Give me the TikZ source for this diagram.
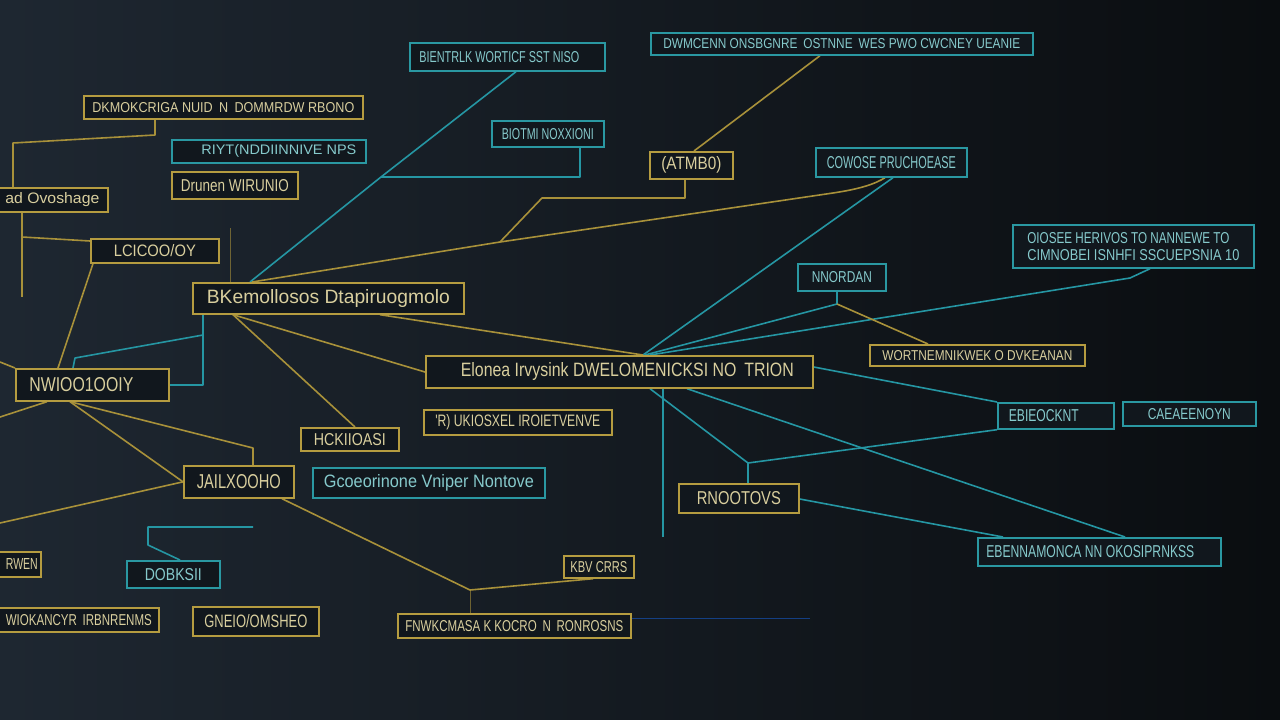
\documentclass[tikz,border=0pt]{standalone}
\usepackage{fontspec}
\usepackage{graphicx}
\newfontfamily\cond{Liberation Sans}
\usetikzlibrary{calc}
\definecolor{bgL}{HTML}{1E2731}
\definecolor{bgM}{HTML}{151C24}
\definecolor{bgR}{HTML}{0A0D10}
\definecolor{gline}{HTML}{A8913A}
\definecolor{gbord}{HTML}{B59C40}
\definecolor{gtext}{HTML}{D9CF9E}
\definecolor{tline}{HTML}{2596A3}
\definecolor{tbord}{HTML}{2A98A2}
\definecolor{ttext}{HTML}{86CACC}
\definecolor{boxfill}{HTML}{11171D}
\newcommand\lbl[3]{\resizebox{#1pt}{#2pt}{\cond #3}}
\pgfdeclarelayer{bg}\pgfdeclarelayer{wires}\pgfsetlayers{bg,wires,main}
\tikzset{
  box/.style={rectangle, anchor=north west, inner sep=0pt, line width=1.7pt, fill=boxfill},
  gbox/.style={box, draw=gbord, text=gtext},
  tbox/.style={box, draw=tbord, text=ttext},
  gw/.style={draw=gline, line width=1.6pt, line join=round},
  tw/.style={draw=tline, line width=1.6pt, line join=round},
  faint/.style={line width=0.9pt, opacity=0.6}
}
\begin{document}
\begin{tikzpicture}[x=1pt,y=-1pt]
\useasboundingbox (0,0) rectangle (1280,720);
\begin{pgfonlayer}{bg}
\shade[left color=bgL, middle color=bgM, right color=bgR] (0,0) rectangle (1280,720);
\end{pgfonlayer}
\clip (0,0) rectangle (1280,720);

% ---------- nodes ----------
\node[gbox, minimum width=279pt, minimum height=23pt] (g2) at (83,95) {\lbl{262}{10}{DKMOKCRIGA NUID\enspace N\enspace DOMMRDW RBONO}};
\node[tbox, minimum width=194pt, minimum height=23pt] (t5) at (171,139) {\hspace*{20pt}\lbl{155}{10}{RIYT(NDDIINNIVE NPS}};
\node[gbox, minimum width=126pt, minimum height=27pt] (g3) at (171,171) {\lbl{108}{12}{Drunen WIRUNIO}};
\node[gbox, minimum width=117pt, minimum height=24pt] (g4) at (-10,187) {\hspace*{6pt}\lbl{94}{11}{ad Ovoshage}};
\node[gbox, minimum width=128pt, minimum height=24pt] (g5) at (90,238) {\lbl{82}{12}{LCICOO/OY}};
\node[gbox, minimum width=271pt, minimum height=31pt] (g6) at (192,282) {\lbl{243}{14}{BKemollosos Dtapiruogmolo}};
\node[tbox, minimum width=195pt, minimum height=28pt] (t1) at (409,42) {\lbl{160}{11}{BIENTRLK WORTICF SST NISO}\hspace*{16pt}};
\node[tbox, minimum width=382pt, minimum height=22pt] (t2) at (650,32) {\lbl{357}{10}{DWMCENN ONSBGNRE\enspace OSTNNE\enspace WES PWO CWCNEY UEANIE}};
\node[tbox, minimum width=112pt, minimum height=26pt] (t3) at (491,120) {\lbl{92}{11}{BIOTMI NOXXIONI}};
\node[gbox, minimum width=83pt, minimum height=27pt] (g1) at (649,151) {\lbl{60}{13}{(ATMB0)}};
\node[tbox, minimum width=151pt, minimum height=29pt] (t4) at (815,147) {\lbl{129}{12}{COWOSE PRUCHOEASE}};
\node[tbox, minimum width=241pt, minimum height=43pt, align=left, font=\fontsize{12}{17}\selectfont] (t6) at (1012,224)
  {\lbl{202}{11}{OIOSEE HERIVOS TO NANNEWE TO}\\\lbl{212}{11}{CIMNOBEI ISNHFI SSCUEPSNIA 10}};
\node[tbox, minimum width=88pt, minimum height=27pt] (t7) at (797,263) {\lbl{60}{11}{NNORDAN}};
\node[gbox, minimum width=215pt, minimum height=21pt] (g7) at (869,344) {\lbl{190}{10}{WORTNEMNIKWEK O DVKEANAN}};
\node[gbox, minimum width=387pt, minimum height=32pt] (g8) at (425,355) {\hspace*{16pt}\lbl{333}{14}{Elonea Irvysink DWELOMENICKSI NO\enspace TRION}};
\node[gbox, minimum width=153pt, minimum height=32pt] (g9) at (15,368) {\lbl{104}{14}{NWIOO1OOIY}\hspace*{22pt}};
\node[tbox, minimum width=116pt, minimum height=26pt] (t8) at (997,402) {\lbl{70}{12}{EBIEOCKNT}\hspace*{24pt}};
\node[tbox, minimum width=133pt, minimum height=24pt] (t9) at (1122,401) {\lbl{83}{11}{CAEAEENOYN}};
\node[gbox, minimum width=98pt, minimum height=23pt] (g10) at (300,427) {\lbl{72}{12}{HCKIIOASI}};
\node[gbox, minimum width=188pt, minimum height=25pt] (g11) at (423,409) {\lbl{165}{12}{'R) UKIOSXEL IROIETVENVE}};
\node[gbox, minimum width=110pt, minimum height=32pt] (g12) at (183,465) {\lbl{84}{14}{JAILXOOHO}};
\node[tbox, minimum width=232pt, minimum height=30pt] (t10) at (312,467) {\lbl{210}{13}{Gcoeorinone Vniper Nontove}};
\node[gbox, minimum width=120pt, minimum height=29pt] (g13) at (678,483) {\lbl{84}{13}{RNOOTOVS}};
\node[tbox, minimum width=243pt, minimum height=28pt] (t11) at (977,537) {\lbl{208}{12}{EBENNAMONCA NN OKOSIPRNKSS}\hspace*{18pt}};
\node[gbox, minimum width=52pt, minimum height=25pt] (g14) at (-12,551) {\hspace*{14pt}\lbl{32}{11}{RWEN}};
\node[tbox, minimum width=93pt, minimum height=27pt] (t12) at (126,560) {\lbl{57}{12}{DOBKSII}};
\node[gbox, minimum width=70pt, minimum height=22pt] (g15) at (563,555) {\lbl{57}{11}{KBV CRRS}};
\node[gbox, minimum width=170pt, minimum height=24pt] (g16) at (-12,607) {\hspace*{10pt}\lbl{146}{11}{WIOKANCYR\enspace IRBNRENMS}};
\node[gbox, minimum width=126pt, minimum height=29pt] (g17) at (192,606) {\lbl{103}{13}{GNEIO/OMSHEO}};
\node[gbox, minimum width=233pt, minimum height=24pt] (g18) at (397,613) {\lbl{218}{11}{FNWKCMASA K KOCRO\enspace N\enspace RONROSNS}};

% ---------- connectors ----------
\begin{pgfonlayer}{wires}
\coordinate (j1) at (381,177);
\coordinate (j2) at (837,304);
\coordinate (j3) at (748,463);
\coordinate (j4) at (500,242);
\coordinate (j5) at (470,590);
\coordinate (j6) at (203,335);
\coordinate (j7) at (22,237);
\coordinate (e1) at (663,537);
\coordinate (e2) at (253,527);
\coordinate (e3) at (810,618);
\coordinate (e4) at (230,228);
\coordinate (e5) at (22,297);
\coordinate (e6) at (0,362);
\coordinate (e7) at (0,417);
\coordinate (e8) at (0,523);
% teal
\draw[tw] (t1.south -| 516,0) -- (j1) -- (g6.north -| 250,0);
\draw[tw] (t3.south -| 580,0) |- (j1);
\draw[tw] (t4.south -| 893,0) -- (g8.north -| 643,0);
\draw[tw] (t7.south -| 837,0) -- (j2) -- (g8.north -| 645,0);
\draw[tw] (t6.south -| 1150,0) -- (1130,278) -- (g8.north -| 650,0);
\draw[tw] (g6.south -| 203,0) |- (g9.east |- 0,385);
\draw[tw] (j6) -- (75,358) -- (g9.north -| 73,0);
\draw[tw] (g8.east |- 0,367) -- (t8.north west);
\draw[tw] (g8.south -| 650,0) -- (j3) -- (g13.north -| 748,0);
\draw[tw] (j3) -- (t8.south west);
\draw[tw] (g8.south -| 687,0) -- (t11.north -| 1125,0);
\draw[tw] (g13.east |- 0,499) -- (t11.north -| 1003,0);
\draw[tw, line width=1.2pt] (g8.south -| 663,0) -- (e1);
\draw[tw] (t12.north -| 180,0) -- (148,545) -- (148,527) -- (e2);
\draw[draw=tline!60!blue, faint] (g18.east |- 0,618) -- (e3);
% gold
\draw[gw] (t2.south -| 820,0) -- (g1.north -| 694,0);
\draw[gw] (g1.south -| 685,0) -- (685,198) -- (542,198) -- (j4);
\draw[gw] (g6.north -| 252,0) -- (j4) -- (833,193) .. controls (860,189) and (875,184) .. (t4.south -| 885,0);
\draw[gw, faint] (g6.north -| 230,0) -- (e4);
\draw[gw] (g2.south -| 155,0) -- (155,135) -- (13,143) -- (g4.north -| 13,0);
\draw[gw] (g4.south -| 22,0) -- (e5);
\draw[gw] (j7) -- (g5.west |- 0,241);
\draw[gw] (g5.south -| 93,0) -- (g9.north -| 58,0);
\draw[gw] (e6) -- (g9.north west);
\draw[gw] (g9.south -| 47,0) -- (e7);
\draw[gw] (g9.south -| 70,0) -- (253,448) -- (g12.north -| 253,0);
\draw[gw] (g9.south -| 70,0) -- (g12.west);
\draw[gw] (g12.west) -- (e8);
\draw[gw] (g6.south -| 233,0) -- (g8.west |- 0,372);
\draw[gw] (g6.south -| 233,0) -- (g10.north -| 355,0);
\draw[gw] (g6.south -| 380,0) -- (g8.north -| 643,0);
\draw[gw] (j2) -- (g7.north -| 928,0);
\draw[gw] (g12.south -| 282,0) -- (j5) -- (g15.south -| 593,0);
\draw[gw, faint] (j5) -- (g18.north -| 470,0);
\end{pgfonlayer}
\end{tikzpicture}
\end{document}
